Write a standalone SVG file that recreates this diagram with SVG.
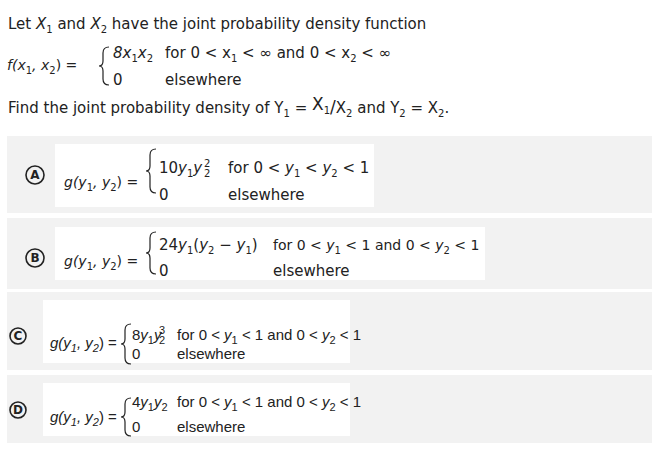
<svg xmlns="http://www.w3.org/2000/svg" width="652" height="449" viewBox="0 0 652 449">
<style>
text{font-family:"DejaVu Sans",sans-serif;font-size:14px;fill:#222}
.i{font-style:italic}
.s{font-size:10px;font-style:normal}
.n{font-family:"Liberation Sans",sans-serif;font-size:15px}
.ns{font-family:"Liberation Sans",sans-serif;font-size:11px}
.t{font-size:15px}
.p{fill:#f2f2f2}
.w{fill:#fff}
.b{fill:none;stroke:#222;stroke-width:1.2}
.c{fill:none;stroke:#222;stroke-width:1.6}
.l{font-size:12px;font-weight:bold;text-anchor:middle}
</style>
<rect width="652" height="449" fill="#fff"/>
<g id="question">
<text x="8" y="29" class="t">Let <tspan class="i">X</tspan><tspan class="s" dy="4">1</tspan><tspan dy="-4"> and </tspan><tspan class="i">X</tspan><tspan class="s" dy="4">2</tspan><tspan dy="-4"> have the joint probability density function</tspan></text>
<text x="7" y="70" class="i" font-size="13">f(x<tspan class="s" dy="4">1</tspan><tspan dy="-4">, x</tspan><tspan class="s" dy="4">2</tspan><tspan dy="-4" font-style="normal">) =</tspan></text>
<path class="b" d="M109,47 q-6,0 -6,6 v8 q0,5 -4,5 q4,0 4,5 v8 q0,6 6,6"/>
<text x="113" y="58" class="t"><tspan class="i">8x</tspan><tspan class="s" dy="4">1</tspan><tspan class="i" dy="-4">x</tspan><tspan class="s" dy="4">2</tspan><tspan x="165" dy="-4">for 0 &lt; x</tspan><tspan class="s" dy="4">1</tspan><tspan dy="-4">  &lt; ∞ and 0 &lt; x</tspan><tspan class="s" dy="4">2</tspan><tspan dy="-4"> &lt; ∞</tspan></text>
<text x="113" y="85" class="t">0<tspan x="165">elsewhere</tspan></text>
<text x="8" y="113" class="t">Find the joint probability density of Y<tspan class="s" dy="4">1</tspan><tspan dy="-4"> = </tspan><tspan font-size="17" dy="-3">X</tspan><tspan class="s" dy="4">1</tspan><tspan font-size="17" dy="-1">/</tspan><tspan>X</tspan><tspan class="s" dy="4">2</tspan><tspan dy="-4"> and Y</tspan><tspan class="s" dy="4">2</tspan><tspan dy="-4"> = X</tspan><tspan class="s" dy="4">2</tspan><tspan dy="-4">.</tspan></text>
</g>
<g id="optionA">
<rect class="p" x="7" y="136" width="645" height="77"/>
<rect class="w" x="55" y="144" width="319" height="63"/>
<circle class="c" cx="35" cy="175" r="9"/><text class="l" x="35" y="179">A</text>
<text x="64" y="187" class="i">g(y<tspan class="s" dy="4">1</tspan><tspan dy="-4">, y</tspan><tspan class="s" dy="4">2</tspan><tspan dy="-4" font-style="normal">) =</tspan></text>
<path class="b" d="M156,149 q-6,0 -6,6 v11 q0,5 -4,5 q4,0 4,5 v11 q0,6 6,6"/>
<text x="159" y="173" class="t">10<tspan class="i">y</tspan><tspan class="s" dy="4">1</tspan><tspan class="i" dy="-4">y</tspan></text>
<text x="204" y="167" class="s">2</text><text x="204" y="177" class="s">2</text>
<text x="228" y="173" class="t">for 0 &lt; <tspan class="i">y</tspan><tspan class="s" dy="4">1</tspan><tspan dy="-4"> &lt; </tspan><tspan class="i">y</tspan><tspan class="s" dy="4">2</tspan><tspan dy="-4"> &lt; 1</tspan></text>
<text x="159" y="200" class="t">0<tspan x="228">elsewhere</tspan></text>
</g>
<g id="optionB">
<rect class="p" x="7" y="218" width="645" height="71"/>
<rect class="w" x="55" y="227" width="430" height="53"/>
<circle class="c" cx="35" cy="258" r="9"/><text class="l" x="35" y="262">B</text>
<text x="64" y="266" class="i">g(y<tspan class="s" dy="4">1</tspan><tspan dy="-4">, y</tspan><tspan class="s" dy="4">2</tspan><tspan dy="-4" font-style="normal">) =</tspan></text>
<path class="b" d="M156,232 q-6,0 -6,6 v10 q0,5 -4,5 q4,0 4,5 v10 q0,6 6,6"/>
<text x="159" y="250" class="t">24<tspan class="i">y</tspan><tspan class="s" dy="4">1</tspan><tspan dy="-4">(</tspan><tspan class="i">y</tspan><tspan class="s" dy="4">2</tspan><tspan dy="-4"> − </tspan><tspan class="i">y</tspan><tspan class="s" dy="4">1</tspan><tspan dy="-4">)</tspan></text>
<text x="273" y="250">for 0 &lt; <tspan class="i">y</tspan><tspan class="s" dy="4">1</tspan><tspan dy="-4"> &lt; 1 and 0 &lt; </tspan><tspan class="i">y</tspan><tspan class="s" dy="4">2</tspan><tspan dy="-4"> &lt; 1</tspan></text>
<text x="159" y="276" class="t">0<tspan x="273">elsewhere</tspan></text>
</g>
<g id="optionC">
<rect class="p" x="7" y="292" width="645" height="78"/>
<rect class="w" x="43" y="300" width="307" height="63"/>
<circle class="c" cx="18" cy="336" r="8"/><text class="l" x="18" y="340" font-size="11">C</text>
<text x="50" y="348" class="i n">g(y<tspan class="ns" dy="4">1</tspan><tspan dy="-4">, y</tspan><tspan class="ns" dy="4">2</tspan><tspan dy="-4" font-style="normal">) =</tspan></text>
<path class="b" d="M131,324 q-6,0 -6,6 v9 q0,5 -4,5 q4,0 4,5 v9 q0,6 6,6"/>
<text x="132" y="340" class="n">8<tspan class="i">y</tspan><tspan class="ns" dy="4">1</tspan><tspan class="i" dy="-4">y</tspan></text>
<text x="159" y="334" class="ns">3</text><text x="159" y="344" class="ns">2</text>
<text x="177" y="340" class="n">for 0 &lt; <tspan class="i">y</tspan><tspan class="ns" dy="4">1</tspan><tspan dy="-4"> &lt; 1 and 0 &lt; </tspan><tspan class="i">y</tspan><tspan class="ns" dy="4">2</tspan><tspan dy="-4"> &lt; 1</tspan></text>
<text x="132" y="359" class="n">0<tspan x="177">elsewhere</tspan></text>
</g>
<g id="optionD">
<rect class="p" x="7" y="375" width="645" height="68"/>
<rect class="w" x="43" y="383" width="307" height="53"/>
<circle class="c" cx="18" cy="410" r="8"/><text class="l" x="18" y="414" font-size="11">D</text>
<text x="50" y="422" class="i n">g(y<tspan class="ns" dy="4">1</tspan><tspan dy="-4">, y</tspan><tspan class="ns" dy="4">2</tspan><tspan dy="-4" font-style="normal">) =</tspan></text>
<path class="b" d="M131,398 q-6,0 -6,6 v8 q0,5 -4,5 q4,0 4,5 v8 q0,6 6,6"/>
<text x="132" y="407" class="n">4<tspan class="i">y</tspan><tspan class="ns" dy="4">1</tspan><tspan class="i" dy="-4">y</tspan><tspan class="ns" dy="4">2</tspan></text>
<text x="177" y="407" class="n">for 0 &lt; <tspan class="i">y</tspan><tspan class="ns" dy="4">1</tspan><tspan dy="-4"> &lt; 1 and 0 &lt; </tspan><tspan class="i">y</tspan><tspan class="ns" dy="4">2</tspan><tspan dy="-4"> &lt; 1</tspan></text>
<text x="132" y="432" class="n">0<tspan x="177">elsewhere</tspan></text>
</g>
</svg>
